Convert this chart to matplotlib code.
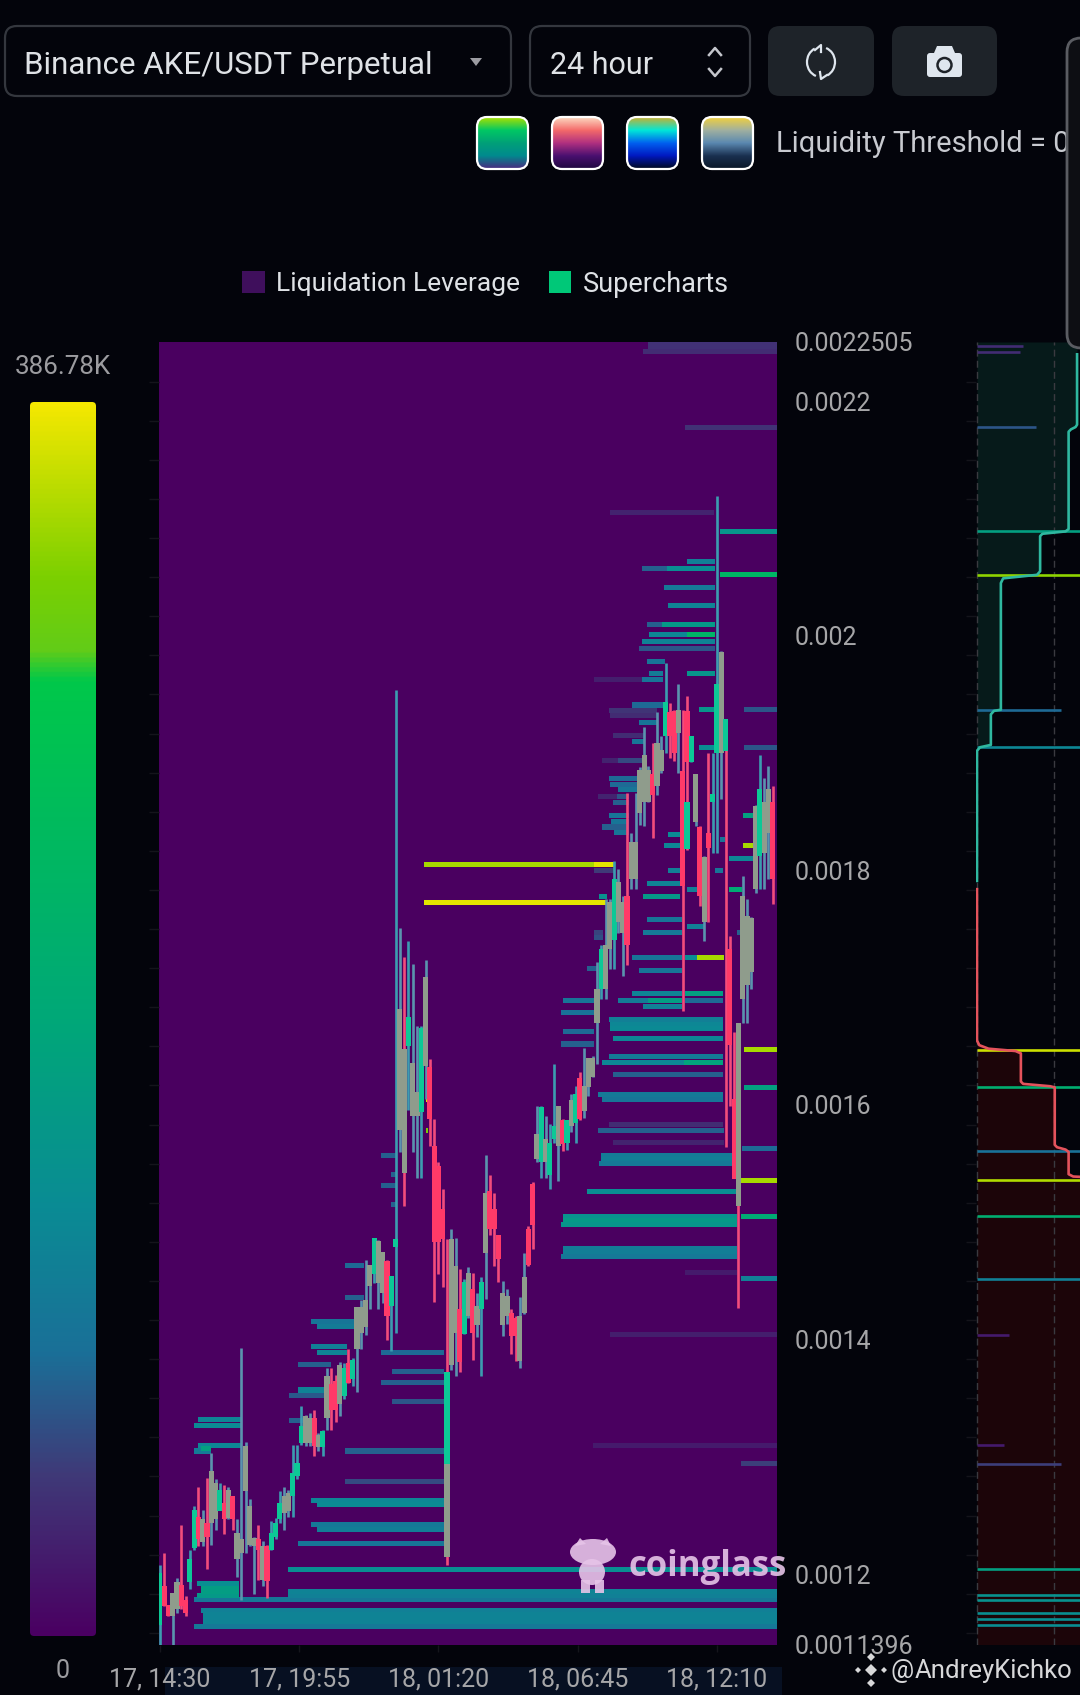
import numpy as np
import matplotlib
matplotlib.use('Agg')
from matplotlib import pyplot as plt
from matplotlib.colors import LinearSegmentedColormap
from matplotlib.patches import FancyBboxPatch, Rectangle, Arc, Circle, Ellipse, Polygon

plt.rcParams['font.family'] = ['Roboto', 'DejaVu Sans']

# prices are in millionths of USDT, times in minutes after 17, 14:30
highs = [1208, 1218, 1174, 1184, 1197, 1242, 1181, 1221, 1258, 1274, 1255, 1282, 1303, 1281, 1278, 1276,
         1274, 1267, 1247, 1393, 1313, 1264, 1232, 1242, 1228, 1225, 1245, 1248, 1271, 1274, 1272, 1310,
         1310, 1343, 1336, 1337, 1340, 1320, 1323, 1376, 1376, 1370, 1381, 1380, 1392, 1384, 1428, 1434,
         1468, 1464, 1487, 1485, 1475, 1468, 1454, 1954, 1751, 1726, 1740, 1720, 1667, 1667, 1724, 1639,
         1588, 1551, 1528, 1486, 1494, 1487, 1460, 1452, 1462, 1457, 1440, 1453, 1557, 1540, 1525, 1489,
         1450, 1443, 1426, 1420, 1436, 1474, 1497, 1534, 1599, 1599, 1591, 1584, 1635, 1599, 1588, 1587,
         1609, 1616, 1628, 1649, 1640, 1642, 1722, 1736, 1776, 1776, 1808, 1801, 1778, 1866, 1832, 1866,
         1888, 1922, 1889, 1909, 1935, 1915, 1977, 1943, 1937, 1959, 1937, 1949, 1915, 1882, 1838, 1812,
         1900, 1900, 2119, 1987, 1929, 1744, 1662, 1670, 1795, 1776, 1760, 1856, 1898, 1879, 1889, 1872]
lows = [1140, 1173, 1164, 1140, 1167, 1170, 1164, 1187, 1221, 1224, 1224, 1204, 1225, 1238, 1255, 1234,
        1247, 1238, 1198, 1178, 1218, 1224, 1183, 1195, 1190, 1180, 1221, 1230, 1244, 1238, 1249, 1249,
        1281, 1310, 1309, 1309, 1301, 1305, 1301, 1323, 1323, 1330, 1335, 1349, 1363, 1360, 1355, 1392,
        1404, 1426, 1448, 1426, 1431, 1400, 1390, 1406, 1560, 1514, 1596, 1560, 1538, 1538, 1605, 1565,
        1432, 1456, 1445, 1208, 1374, 1369, 1372, 1405, 1418, 1383, 1402, 1369, 1435, 1489, 1463, 1449,
        1403, 1413, 1388, 1382, 1376, 1422, 1463, 1477, 1551, 1538, 1538, 1528, 1568, 1535, 1561, 1562,
        1577, 1568, 1587, 1589, 1608, 1624, 1635, 1690, 1690, 1716, 1716, 1747, 1710, 1719, 1784, 1784,
        1839, 1838, 1858, 1828, 1864, 1883, 1900, 1896, 1893, 1883, 1680, 1817, 1892, 1838, 1770, 1740,
        1756, 1815, 1815, 1861, 1564, 1599, 1564, 1427, 1670, 1670, 1699, 1781, 1784, 1784, 1793, 1771]
body_hi = [1201, 1190, 1174, 1184, 1193, 1191, 1178, 1213, 1255, 1249, 1247, 1244, 1288, 1278, 1272, 1261,
           1272, 1267, 1235, 1230, 1309, 1258, 1231, 1230, 1224, 1224, 1235, 1244, 1261, 1267, 1269, 1286,
           1295, 1326, 1335, 1333, 1333, 1319, 1322, 1369, 1362, 1365, 1378, 1376, 1380, 1383, 1428, 1428,
           1434, 1464, 1487, 1484, 1475, 1467, 1454, 1486, 1682, 1648, 1675, 1636, 1611, 1666, 1709, 1632,
           1565, 1548, 1511, 1372, 1486, 1463, 1426, 1449, 1457, 1443, 1429, 1449, 1525, 1527, 1511, 1489,
           1440, 1437, 1423, 1418, 1420, 1453, 1494, 1533, 1575, 1598, 1571, 1568, 1582, 1599, 1587, 1587,
           1604, 1609, 1623, 1616, 1640, 1640, 1699, 1733, 1736, 1773, 1793, 1790, 1773, 1778, 1824, 1824,
           1886, 1898, 1886, 1882, 1909, 1903, 1944, 1935, 1936, 1937, 1885, 1936, 1915, 1882, 1837, 1811,
           1832, 1865, 1959, 1986, 1929, 1733, 1605, 1670, 1778, 1761, 1759, 1855, 1869, 1858, 1869, 1858]
body_lo = [1157, 1173, 1164, 1164, 1170, 1173, 1167, 1193, 1222, 1230, 1227, 1232, 1244, 1247, 1254, 1247,
           1248, 1247, 1213, 1218, 1271, 1225, 1224, 1221, 1195, 1194, 1221, 1232, 1247, 1252, 1254, 1267,
           1284, 1312, 1312, 1312, 1309, 1308, 1308, 1333, 1340, 1340, 1345, 1352, 1363, 1366, 1392, 1406,
           1411, 1446, 1456, 1448, 1440, 1420, 1429, 1479, 1579, 1542, 1650, 1591, 1591, 1594, 1633, 1588,
           1483, 1483, 1486, 1294, 1378, 1406, 1381, 1405, 1420, 1406, 1412, 1426, 1474, 1494, 1494, 1469,
           1412, 1420, 1403, 1403, 1382, 1423, 1464, 1498, 1554, 1551, 1551, 1540, 1571, 1565, 1567, 1568,
           1582, 1585, 1588, 1595, 1615, 1624, 1670, 1699, 1699, 1733, 1741, 1756, 1747, 1736, 1793, 1793,
           1849, 1858, 1858, 1864, 1872, 1885, 1915, 1915, 1900, 1917, 1787, 1892, 1892, 1841, 1778, 1756,
           1819, 1858, 1900, 1900, 1902, 1651, 1537, 1514, 1690, 1702, 1713, 1784, 1812, 1815, 1832, 1793]
kinds = ('grrmmrrggrmrmmgrmrmmmmmrmrgggmmgggmmrmg'
         'mrrmgrgmmmmgmmrggmmgmmgmrrrrgmmrgmrmgmrrrmmrrmmrrmgmgg'
         'mrgmgrmmmmgmmgmmrmmmmmrmmgrrmrrgmrmrggmgrrmmmmmgmmrr')
red_wicks = [57, 64, 67, 122, 132, 134, 135]
# second body segment on a few of the long candles
extra_time = [670, 1230]
extra_hi = [1294, 1858]
extra_lo = [1215, 1818]
extra_kind = ['m', 'g']

time_ticks = [0, 325, 650, 975, 1300]
time_labels = ['17, 14:30', '17, 19:55', '18, 01:20', '18, 06:45', '18, 12:10']
price_ticks = [0.0022505, 0.0022, 0.002, 0.0018, 0.0016, 0.0014, 0.0012, 0.0011396]
price_labels = ['0.0022505', '0.0022', '0.002', '0.0018', '0.0016', '0.0014', '0.0012', '0.0011396']

# liquidation rows: start minute, end minute, price, share of the colour scale
rows_bottom = [
    (95, 1440, 1169, .30), (100, 1440, 1165.5, .31), (100, 1440, 1162, .31), (100, 1440, 1158.5, .31),
    (79, 1440, 1155.5, .27), (79, 1440, 1178, .26), (300, 1440, 1182, .30), (300, 1440, 1185, .31),
    (86, 184, 1182, .42), (95, 184, 1185.5, .44), (95, 184, 1189, .44), (86, 184, 1192, .36),
    (300, 1440, 1204, .36),
]
rows_left = [
    (431, 476, 1463, .22), (431, 476, 1436, .20), (352, 461, 1415, .25), (366, 461, 1411, .28),
    (352, 437, 1394, .30), (366, 437, 1389, .31), (322, 399, 1379, .20), (322, 387, 1357, .31),
    (301, 387, 1352, .19), (301, 336, 1331, .20), (88, 189, 1332, .32), (80, 189, 1327, .34),
    (88, 189, 1310, .33), (80, 119, 1305, .28), (95, 119, 1307, .46), (517, 663, 1389, .22),
    (542, 663, 1373, .20), (517, 663, 1363, .20), (542, 663, 1347, .18), (431, 663, 1305, .20),
    (431, 663, 1279, .16), (352, 663, 1263, .33), (366, 663, 1259, .34), (352, 663, 1242, .27),
    (366, 663, 1238, .29), (322, 663, 1226, .25), (515, 550, 1557, .20), (515, 550, 1531, .20),
    (540, 550, 1541, .20), (540, 550, 1515, .20), (620, 625, 1605, .97), (620, 625, 1578, .85),
]
rows_middle = [
    (616, 1012, 1805, .91), (1012, 1059, 1805, .98), (616, 1043, 1773, .98),
    (1024, 1043, 1778, .38),
    (1012, 1059, 1800, .13), (1012, 1035, 1747, .15), (1012, 1035, 1743, .17), (997, 1020, 1716, .20),
    (941, 1012, 1689, .25), (936, 1012, 1679, .24), (941, 1012, 1663, .22), (936, 1012, 1652, .20),
    (1137, 1214, 1789, .31), (1127, 1214, 1778, .42), (1137, 1218, 1758, .25), (1127, 1218, 1747, .27),
    (1230, 1269, 1752, .30), (1102, 1218, 1726, .25), (1226, 1253, 1726, .35), (1253, 1317, 1726, .91),
    (1117, 1218, 1715, .25), (1102, 1218, 1695, .32), (1226, 1315, 1695, .45), (1070, 1140, 1689, .28),
    (1140, 1218, 1689, .44), (1226, 1315, 1689, .22), (1127, 1218, 1684, .30), (1047, 1315, 1673, .30),
    (1050, 1315, 1669, .33), (1050, 1315, 1665.5, .34), (1057, 1315, 1657, .33), (1047, 1315, 1641, .28),
    (1032, 1222, 1636, .33), (1222, 1315, 1636, .48), (1057, 1315, 1626, .20), (1022, 1315, 1609, .27),
    (1032, 1315, 1605, .25), (1047, 1315, 1583, .10), (1023, 1316, 1578, .20), (1057, 1316, 1568, .08),
    (1030, 1342, 1557, .28), (1030, 1342, 1553.5, .29), (1025, 1342, 1550, .27), (997, 1346, 1526, .36),
    (941, 1346, 1505, .38), (941, 1346, 1501.5, .42), (936, 1346, 1498, .40), (941, 1346, 1478, .28),
    (941, 1346, 1474.5, .29), (936, 1346, 1471, .27), (1225, 1346, 1457, .06), (1050, 1440, 1404, .07),
    (1010, 1440, 1310, .06),
]
rows_right = [
    (1362, 1440, 1937, .18), (1362, 1440, 1905, .18), (1360, 1389, 1847, .46), (1360, 1389, 1821, .91),
    (1327, 1389, 1810, .33), (1327, 1358, 1784, .52), (1347, 1358, 1747, .20), (1362, 1440, 1647, .91),
    (1362, 1440, 1615, .46), (1359, 1440, 1563, .22), (1357, 1440, 1536, .91), (1357, 1440, 1505, .52),
    (1357, 1440, 1452, .30), (1357, 1440, 1294, .14), (1257, 1292, 1905, .36), (1257, 1292, 1937, .40),
    (1186, 1213, 1831, .35), (1177, 1213, 1821, .33), (1186, 1213, 1800, .30), (1296, 1315, 1800, .25),
    (1307, 1318, 1826, .25), (1230, 1253, 1784, .30),
]
rows_upper = [
    (1140, 1441, 2249, .11), (1140, 1441, 2246, .11), (1127, 1441, 2242, .10), (1226, 1441, 2178, .11),
    (1051, 1292, 2105, .08), (1306, 1441, 2089, .40), (1231, 1296, 2063, .30), (1126, 1183, 2057, .20),
    (1183, 1296, 2057, .36), (1306, 1441, 2052, .62), (1177, 1296, 2041, .27), (1185, 1296, 2026, .31),
    (1136, 1172, 2010, .20), (1172, 1296, 2010, .42), (1142, 1230, 2001, .33), (1230, 1296, 2001, .60),
    (1126, 1296, 1995, .31), (1117, 1296, 1989, .18), (1136, 1179, 1978, .25), (1142, 1175, 1968, .28),
    (1231, 1296, 1968, .40), (1012, 1125, 1963, .07), (1125, 1175, 1963, .25), (1102, 1175, 1941, .22),
    (1047, 1160, 1936, .12), (1050, 1160, 1932, .10), (1117, 1160, 1926, .25), (1057, 1129, 1915, .10),
    (1102, 1129, 1910, .25), (1032, 1070, 1894, .08), (1070, 1125, 1894, .16), (1047, 1117, 1878, .22),
    (1050, 1117, 1873, .22), (1070, 1117, 1869, .25), (1022, 1067, 1863, .08), (1067, 1094, 1863, .18),
    (1057, 1094, 1858, .20), (1047, 1094, 1847, .25), (1052, 1094, 1842, .25), (1032, 1094, 1837, .20),
    (1060, 1094, 1832, .25),
]

# order book panel on the right: price, size (K), share of the colour scale
book_price = [2247, 2242, 2178, 2089, 2052, 1937, 1905, 1647, 1615, 1561, 1536, 1505, 1452, 1404, 1310, 1294,
              1204, 1182, 1178, 1167, 1162, 1157]
book_size = [60, 56, 77, 200, 200, 109, 200, 200, 200, 200, 200, 200, 200, 42, 35, 109,
             200, 200, 200, 200, 200, 200]
book_value = [.10, .10, .18, .45, .88, .22, .33, .95, .55, .24, .92, .55, .30, .06, .06, .14,
              .45, .38, .38, .36, .36, .36]
ask_price = [1791, 1902, 1905, 1907, 1933, 1936, 1937, 2045, 2049, 2052, 2055, 2085, 2087, 2089, 2091, 2174,
             2176, 2178, 2180, 2240]
ask_size = [0, 0, 4, 18, 18, 22, 31, 31, 34, 78, 82, 82, 85, 115, 119, 119, 122, 128, 130, 130]
bid_price = [1784, 1655, 1651, 1648, 1646, 1644, 1620, 1618, 1616, 1615, 1566, 1564, 1562, 1560, 1541, 1539, 1538]
bid_size = [0, 0, 3, 15, 50, 57, 57, 60, 95, 101, 101, 104, 115, 119, 119, 125, 160]

scale_top = '386.78K'
scale_bottom = '0'

BG = '#03040b'
PLOT_BG = '#4a0060'
TEXT = '#dfe2e6'
AXIS_TEXT = '#a6a6a8'

heat = LinearSegmentedColormap.from_list('heat', [
    (0, '#4a0062'), (.13, '#3f3a78'), (.23, '#1a7098'), (.35, '#0a8c94'), (.5, '#00a878'),
    (.775, '#00c84a'), (.80, '#62cc18'), (.86, '#7cd000'), (1, '#f5e800')])

W, H = 1080, 1695
fig = plt.figure(figsize=(W / 100, H / 100), dpi=100, facecolor=BG)


def box(x0, y0, x1, y1):
    return [x0 / W, 1 - y1 / H, (x1 - x0) / W, (y1 - y0) / H]


# navy strip behind the time labels
strip = fig.add_axes(box(165, 1667, 782, 1695), facecolor='#071022', zorder=-1)
strip.set_axis_off()
strip.add_patch(Rectangle((0, 0), 1, 1, transform=strip.transAxes, facecolor='#071022', linewidth=0))

ax = fig.add_axes(box(159, 342, 777, 1645), facecolor=PLOT_BG)
ax.set_xlim(-2, 1440)
ax.set_ylim(0.0011396, 0.0022505)

# heatmap rows
all_rows = rows_bottom + rows_left + rows_middle + rows_right + rows_upper
row_start = np.array([r[0] for r in all_rows], dtype=float)
row_end = np.array([r[1] for r in all_rows], dtype=float)
row_price = np.array([r[2] for r in all_rows]) * 1e-6
row_value = np.array([r[3] for r in all_rows])
ax.barh(row_price, row_end - row_start, left=row_start, height=4.3e-6,
        color=heat(row_value), linewidth=0, zorder=2)

# candles
body_colors = {'g': '#0cc896', 'r': '#ff3a68', 'm': '#8f9c8c'}
wick_colors = {'g': '#3c9cb0', 'r': '#f24c7c', 'm': '#5a94ae'}
times = np.arange(len(highs)) * 10
wicks = [wick_colors['r'] if i in red_wicks else wick_colors[k] for i, k in enumerate(kinds)]
ax.vlines(times, np.array(lows) * 1e-6, np.array(highs) * 1e-6, colors=wicks, linewidth=1.9, zorder=3)
ax.bar(times, (np.array(body_hi) - np.array(body_lo)) * 1e-6, bottom=np.array(body_lo) * 1e-6, width=12,
       color=[body_colors[k] for k in kinds], linewidth=0, zorder=4)
ax.bar(extra_time, (np.array(extra_hi) - np.array(extra_lo)) * 1e-6, bottom=np.array(extra_lo) * 1e-6, width=12,
       color=[body_colors[k] for k in extra_kind], linewidth=0, zorder=4)

for s in ax.spines.values():
    s.set_visible(False)
ax.yaxis.tick_right()
ax.set_yticks(price_ticks)
ax.set_yticklabels(price_labels, fontsize=18, color=AXIS_TEXT)
ax.set_xticks(time_ticks)
ax.set_xticklabels(time_labels, fontsize=18, color=AXIS_TEXT)
ax.tick_params(axis='y', length=0, pad=13)
ax.tick_params(axis='x', length=5, width=1, color='#15151c', pad=11)
ax.set_yticks(np.arange(0.00115, 0.00225, 0.0002 / 6), minor=True)
ax.tick_params(axis='y', which='minor', left=True, right=False, length=7, width=1, color='#14141b')

# order book panel
dax = fig.add_axes(box(976, 342, 1080, 1645), facecolor=BG)
dax.set_xlim(-1.3, 133.8)
dax.set_ylim(0.0011396, 0.0022505)
for s in dax.spines.values():
    s.set_visible(False)
dax.set_xticks([])
dax.set_yticks(np.arange(0.00115, 0.00225, 0.0002 / 6))
dax.set_yticklabels([])
dax.tick_params(axis='y', length=7, width=1, color='#14141b')
ask_p = np.array(ask_price) * 1e-6
bid_p = np.array(bid_price) * 1e-6
dax.fill_betweenx(np.append(ask_p, 0.0022505), 0, np.append(ask_size, 130), color='#061a1a', linewidth=0)
dax.fill_betweenx(np.append(bid_p, 0.00114), 0, np.append(bid_size, 160), color='#1c0509', linewidth=0)
dax.axvline(0, color='#3a3a40', linestyle=(0, (5, 3)), linewidth=1)
dax.axvline(100, color='#3a3a40', linestyle=(0, (5, 3)), linewidth=1)
dax.hlines(np.array(book_price) * 1e-6, 0, book_size, colors=heat(np.array(book_value)), linewidth=1.9)
dax.plot(ask_size, ask_p, color='#2fb8a0', linewidth=1.9)
dax.plot(bid_size, bid_p, color='#e4535c', linewidth=1.9)

# page furniture, in picture pixels
ui = fig.add_axes([0, 0, 1, 1], facecolor='none', zorder=10)
ui.set_axis_off()


def reset_ui():
    ui.set_xlim(0, W)
    ui.set_ylim(H, 0)


reset_ui()


def rbox(x0, y0, x1, y1, r, **kw):
    p = FancyBboxPatch((x0 + r, y0 + r), x1 - x0 - 2 * r, y1 - y0 - 2 * r,
                       boxstyle=f'round,pad={r},rounding_size={r}', **kw)
    ui.add_patch(p)
    return p


rbox(5, 26, 511, 96, 12, facecolor='none', edgecolor='#34373e', linewidth=1.6)
rbox(530, 26, 750, 96, 12, facecolor='none', edgecolor='#34373e', linewidth=1.6)
rbox(768, 26, 874, 96, 12, facecolor='#1e2329', edgecolor='none')
rbox(892, 26, 997, 96, 12, facecolor='#1e2329', edgecolor='none')
ui.text(24, 65, 'Binance AKE/USDT Perpetual', fontsize=22.5, color=TEXT, va='center')
ui.text(550, 65, '24 hour', fontsize=22, color=TEXT, va='center')
ui.add_patch(Polygon([(470, 58), (482, 58), (476, 66)], facecolor='#9c9ca2'))
ui.plot([709, 715, 721], [55, 48, 55], color='#c4c6cc', linewidth=1.8)
ui.plot([709, 715, 721], [69, 76, 69], color='#c4c6cc', linewidth=1.8)

# refresh icon
ui.add_patch(Arc((821, 62), 28, 30, theta1=110, theta2=245, color='#dfe6ee', linewidth=1.6))
ui.add_patch(Arc((821, 62), 28, 30, theta1=290, theta2=65, color='#dfe6ee', linewidth=1.6))
ui.plot([815, 821, 821], [50, 45, 52], color='#dfe6ee', linewidth=1.6)
ui.plot([820, 821, 827], [72, 79, 75], color='#dfe6ee', linewidth=1.6)
# camera icon
rbox(927, 53, 962, 77, 3, facecolor='#dfe6ee', edgecolor='none')
ui.add_patch(Polygon([(934, 53), (937, 46), (952, 46), (955, 53)], facecolor='#dfe6ee'))
ui.add_patch(Circle((944.5, 65), 7, facecolor='#dfe6ee', edgecolor='#1e2329', linewidth=1.8))

swatches = [
    (477, ['#a8e000', '#00c864', '#00a078', '#008a8e', '#4a2a80']),
    (552, ['#fcd8c0', '#f46a6a', '#b03080', '#4a1070', '#200840']),
    (627, ['#c8b030', '#00e8d8', '#0060f0', '#0018c0', '#000a20']),
    (702, ['#f0d040', '#a0b0a0', '#5a88b0', '#1a3050', '#0a1828']),
]
for x0, stops in swatches:
    cmap = LinearSegmentedColormap.from_list('s', stops)
    frame = rbox(x0, 117, x0 + 51, 169, 10, facecolor='none', edgecolor='white', linewidth=1.6, zorder=3)
    img = ui.imshow(np.linspace(0, 1, 64)[:, None], cmap=cmap, extent=(x0, x0 + 51, 169, 117), aspect='auto', zorder=2)
    img.set_clip_path(frame)
    reset_ui()
ui.text(776, 144, 'Liquidity Threshold = 0', fontsize=21, color='#c8cad0', va='center', zorder=1)
rbox(1067, 38, 1100, 348, 14, facecolor='#0d0e13', edgecolor='#5a5c62', linewidth=2, zorder=5)

# legend
ui.add_patch(Rectangle((242, 271), 23, 22, facecolor='#3f0f5c', linewidth=0))
ui.add_patch(Rectangle((549, 271), 22, 22, facecolor='#00c878', linewidth=0))
ui.text(276, 284, 'Liquidation Leverage', fontsize=19, color=TEXT, va='center')
ui.text(583, 284, 'Supercharts', fontsize=19.5, color=TEXT, va='center')

# colour scale
frame = rbox(30, 402, 96, 1636, 4, facecolor='none', edgecolor='none')
img = ui.imshow(np.linspace(1, 0, 512)[:, None], cmap=heat, vmin=0, vmax=1, extent=(30, 96, 1636, 402), aspect='auto')
img.set_clip_path(frame)
reset_ui()
ui.text(63, 367, scale_top, fontsize=18.7, color='#9c9ca0', ha='center', va='center')
ui.text(63, 1671, scale_bottom, fontsize=18, color='#9c9ca0', ha='center', va='center')

# watermark
pink = '#e6c4e8'
ui.add_patch(Ellipse((593, 1552), 46, 26, facecolor=pink, alpha=.9, linewidth=0))
ui.add_patch(Polygon([(575, 1546), (580, 1538), (586, 1544)], facecolor=pink, alpha=.9, linewidth=0))
ui.add_patch(Polygon([(600, 1544), (607, 1538), (611, 1546)], facecolor=pink, alpha=.9, linewidth=0))
ui.add_patch(Ellipse((592, 1572), 26, 26, facecolor=pink, alpha=.9, linewidth=0))
ui.add_patch(Rectangle((581, 1580), 9, 13, facecolor=pink, alpha=.9, linewidth=0))
ui.add_patch(Rectangle((595, 1580), 9, 13, facecolor=pink, alpha=.9, linewidth=0))
ui.text(629, 1567, 'coinglass', fontsize=25, fontweight='bold', color=pink, alpha=.9, va='center', family='Open Sans')

# footer
ui.text(890, 1671, '@', fontsize=18.5, color='#d8d8da', va='center')
ui.text(915, 1671, 'AndreyKichko', fontsize=18.5, color='#d8d8da', va='center')
for cx, cy, s in [(871, 1670, 6), (858, 1670, 3), (884, 1670, 3), (871, 1657, 4), (871, 1683, 4)]:
    ui.add_patch(Polygon([(cx - s, cy), (cx, cy - s), (cx + s, cy), (cx, cy + s)], facecolor='#d8d8da', linewidth=0))

fig.savefig('out.png', dpi=100, facecolor=BG)
